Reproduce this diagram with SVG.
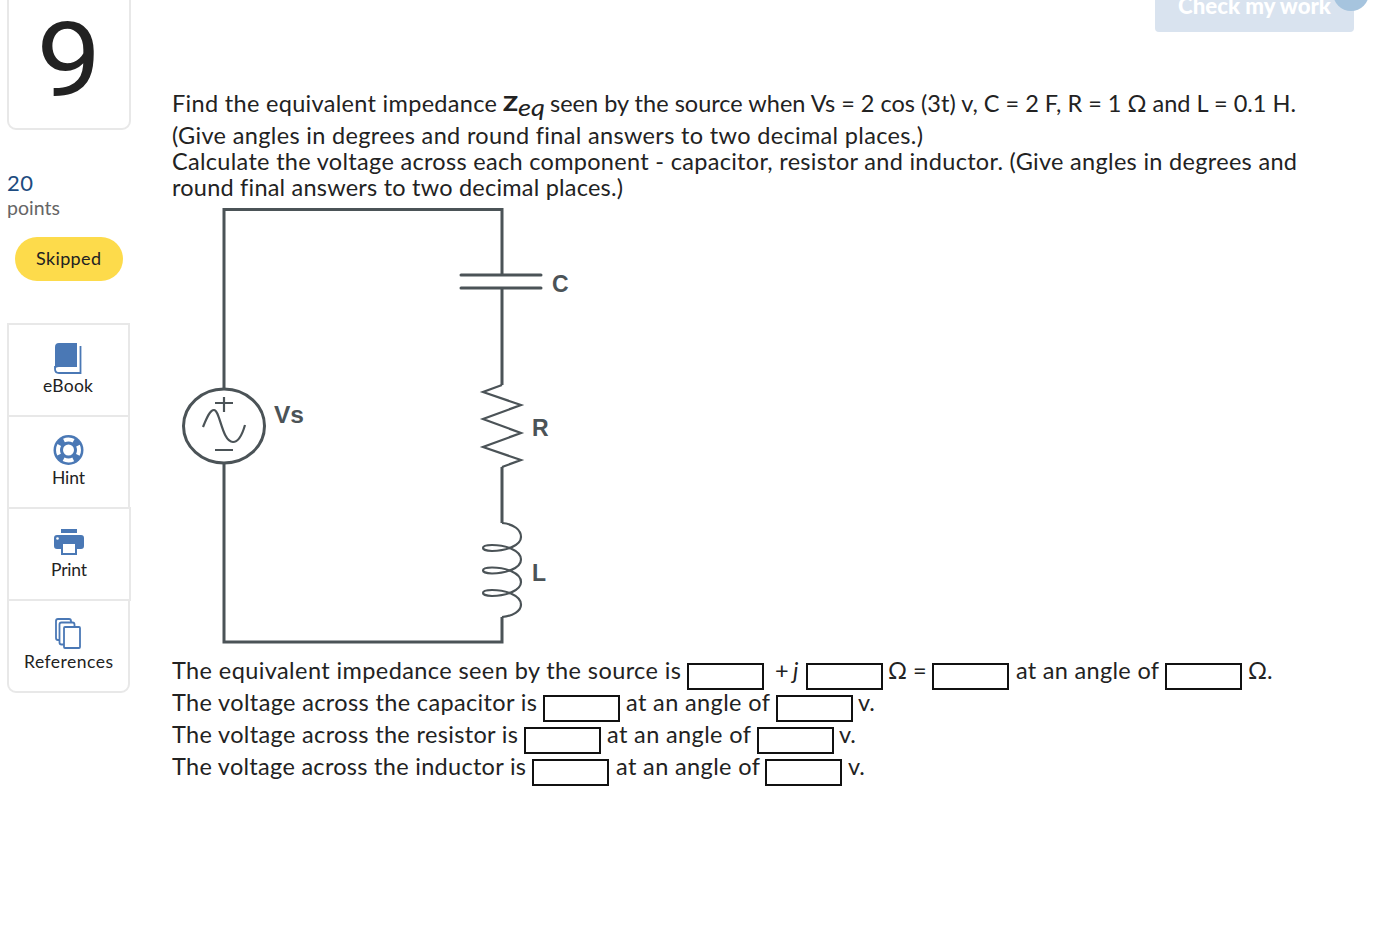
<svg xmlns="http://www.w3.org/2000/svg" width="1374" height="938" viewBox="0 0 1374 938">
<style>
text{font-family:"Lato","Open Sans","Liberation Sans",sans-serif;fill:#222;font-variant-ligatures:none}
.q{font-size:23.5px}
.nav{font-size:17.500px;text-anchor:middle}
.box{fill:#fff;stroke:#111;stroke-width:2}
.wire{fill:none;stroke:#4b5357;stroke-width:3;stroke-linejoin:miter}
.thin{fill:none;stroke:#4b5357;stroke-width:2.200;stroke-linejoin:miter}
.lab{font-family:"Liberation Sans",Arial,sans-serif;font-weight:700;font-size:23px;fill:#4b5357}
.side{fill:#fff;stroke:#e8e8e8;stroke-width:2}
.ic{fill:#4a78b5}
</style>
<rect width="1374" height="938" fill="#fff"/>
<g id="question-number">
<path d="M8 -5V121a8 8 0 0 0 8 8H122a8 8 0 0 0 8-8V-5" class="side"/>
<text transform="translate(69 96) scale(1.12 1)" text-anchor="middle" style="font-family:Roboto,sans-serif;font-size:103px">9</text>
</g>
<g id="points">
<text x="7" y="191" style="font-size:22px;fill:#1d4b80" textLength="26">20</text>
<text x="7" y="215" style="font-size:19.500px;fill:#666" textLength="53">points</text>
</g>
<g id="skipped">
<rect x="15" y="237" width="108" height="44" rx="22" fill="#fddb4b"/>
<text x="36" y="265" style="font-size:18px" textLength="65">Skipped</text>
</g>
<g id="ebook">
<path d="M8 416V324H129V416Z" class="side"/>
<path d="M59 343H77V367H59Q55 367 55 370V347Q55 343 59 343Z" class="ic"/>
<path d="M80.500 346V373H59Q55 373 55 369V366" fill="none" stroke="#4a78b5" stroke-width="1.800"/>
<text x="43" y="392" style="font-size:17.500px" textLength="50">eBook</text>
</g>
<g id="hint">
<rect x="8" y="416" width="121" height="92" class="side"/>
<circle cx="68.500" cy="450" r="15" class="ic"/>
<circle cx="68.500" cy="450" r="5.500" fill="#fff"/>
<circle cx="68.500" cy="450" r="10.500" fill="none" stroke="#fff" stroke-width="4" stroke-dasharray="10 6.490" stroke-dashoffset="5"/>
<text x="52" y="484" style="font-size:17.500px" textLength="33">Hint</text>
</g>
<g id="print">
<rect x="8" y="508" width="122" height="92" class="side"/>
<rect x="61" y="529" width="16" height="4" class="ic"/>
<path d="M57 535H81Q84 535 84 538V546Q84 549 81 549H77V555H61V549H57Q54 549 54 546V538Q54 535 57 535Z" class="ic"/>
<rect x="63" y="544" width="12" height="9" fill="#fff"/>
<circle cx="57.500" cy="538.500" r="1.300" fill="#fff"/>
<text x="51" y="576" style="font-size:17.500px" textLength="36">Print</text>
</g>
<g id="references">
<path d="M8 600H129V684a8 8 0 0 1-8 8H16a8 8 0 0 1-8-8Z" class="side"/>
<g fill="#fff" stroke="#4a78b5" stroke-width="1.800">
<rect x="56" y="619" width="15" height="21" rx="2"/>
<rect x="59.500" y="622.500" width="15" height="22" rx="2"/>
<rect x="64" y="627" width="16" height="21" rx="1"/>
</g>
<text x="24" y="668" style="font-size:17.500px" textLength="89">References</text>
</g>
<g id="check-my-work">
<path d="M1155 0H1354V28a4 4 0 0 1-4 4H1159a4 4 0 0 1-4-4Z" fill="#d9e3ef"/>
<text x="1178" y="14" style="font-size:22px;font-weight:900;fill:#fff" textLength="153" lengthAdjust="spacingAndGlyphs">Check my work</text>
<circle cx="1351" cy="-7" r="18" fill="#a6c4de"/>
</g>
<g id="question-text">
<text x="172" y="112" class="q" textLength="325">Find the equivalent impedance</text>
<text x="503" y="111" style="font-size:20px;font-weight:900" textLength="15" lengthAdjust="spacingAndGlyphs">Z</text>
<text x="518" y="116" style="font-size:24px;font-style:italic" textLength="27" lengthAdjust="spacingAndGlyphs">eq</text>
<text x="550" y="112" class="q" textLength="746">seen by the source when Vs = 2 cos (3t) v, C = 2 F, R = 1 Ω and L = 0.1 H.</text>
<text x="172" y="144" class="q" textLength="751">(Give angles in degrees and round final answers to two decimal places.)</text>
<text x="172" y="170" class="q" textLength="1125">Calculate the voltage across each component - capacitor, resistor and inductor. (Give angles in degrees and</text>
<text x="172" y="196" class="q" textLength="451">round final answers to two decimal places.)</text>
</g>
<g id="connectors">
<path class="wire" d="M224 390V209.500H502V275M502 288V385M502 467V523M502 617V642H224V462"/>
<path class="thin" d="M502 385L483 392L521 405L483 419L521 433L483 447L521 460L502 467"/>
<path class="thin" d="M502 523C514 524 521 530 521 537C521 546 505 551 492 551C485 551 483 549 483 548C483 546 486 545 492 545C505 545 521 550 521 559.500C521 568.500 505 573.500 492 573.500C485 573.500 483 571.500 483 570.500C483 568.500 486 567.500 492 567.500C505 567.500 521 572.500 521 582C521 591 505 596 492 596C485 596 483 594 483 593C483 591 486 590 492 590C505 590 521 595 521 604.500C521 611 513 616 502 617"/>
</g>
<g id="source">
<ellipse cx="224" cy="426" rx="40.500" ry="37" fill="#fff" stroke="#4b5357" stroke-width="3"/>
<path class="thin" d="M203 427C207 417 210 410 214 410C220 410 222 442 233 442C239 442 243 432 245 425M215 403H233M224 397V412M215 450H233"/>
<text x="274" y="423" class="lab" textLength="30" lengthAdjust="spacingAndGlyphs">Vs</text>
</g>
<g id="capacitor">
<path class="wire" stroke-linecap="round" d="M461 275H541M461 288H541"/>
<text x="552" y="292" class="lab">C</text>
</g>
<g id="resistor"><text x="532" y="436" class="lab">R</text></g>
<g id="inductor"><text x="532" y="581" class="lab">L</text></g>
<g id="answer-1">
<text x="172" y="679" class="q" textLength="509">The equivalent impedance seen by the source is</text>
<rect x="688" y="664" width="75" height="25" class="box"/>
<text x="775" y="679" class="q">+</text><text x="793" y="679" class="q" style="font-style:italic">j</text>
<rect x="807" y="664" width="75" height="25" class="box"/>
<text x="888" y="679" class="q">Ω</text><text x="913" y="679" class="q">=</text>
<rect x="933" y="664" width="75" height="25" class="box"/>
<text x="1016" y="679" class="q" textLength="143">at an angle of</text>
<rect x="1166" y="664" width="75" height="25" class="box"/>
<text x="1248" y="679" class="q">Ω.</text>
</g>
<g id="answer-2">
<text x="172" y="711" class="q" textLength="365">The voltage across the capacitor is</text>
<rect x="544" y="696" width="75" height="25" class="box"/>
<text x="626" y="711" class="q" textLength="144">at an angle of</text>
<rect x="777" y="696" width="75" height="25" class="box"/>
<text x="858" y="711" class="q">v.</text>
</g>
<g id="answer-3">
<text x="172" y="743" class="q" textLength="346">The voltage across the resistor is</text>
<rect x="525" y="728" width="75" height="25" class="box"/>
<text x="607" y="743" class="q" textLength="144">at an angle of</text>
<rect x="758" y="728" width="75" height="25" class="box"/>
<text x="839" y="743" class="q">v.</text>
</g>
<g id="answer-4">
<text x="172" y="775" class="q" textLength="354">The voltage across the inductor is</text>
<rect x="533" y="760" width="75" height="25" class="box"/>
<text x="616" y="775" class="q" textLength="144">at an angle of</text>
<rect x="766" y="760" width="75" height="25" class="box"/>
<text x="848" y="775" class="q">v.</text>
</g>
</svg>
